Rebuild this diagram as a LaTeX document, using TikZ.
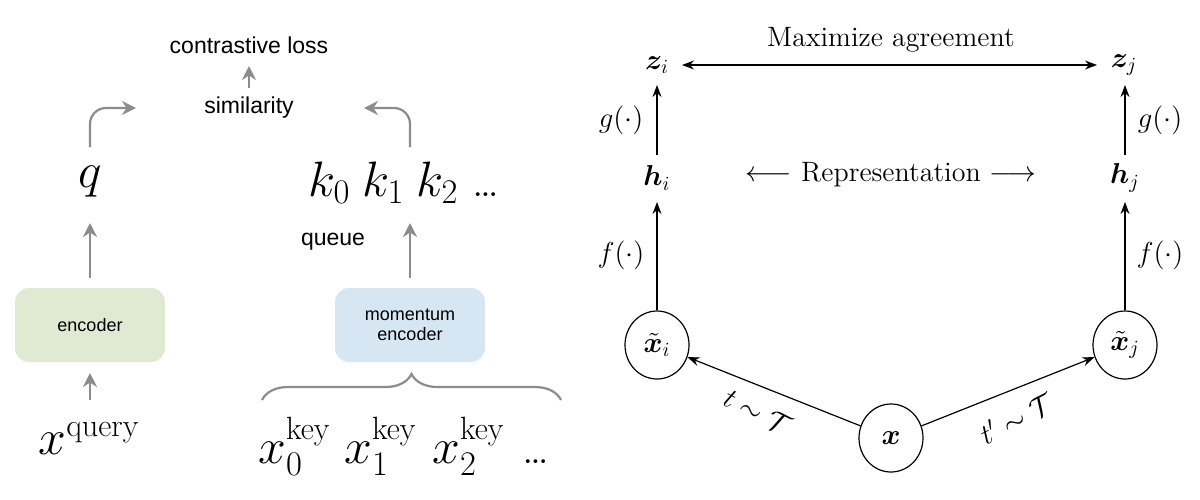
\documentclass[tikz,border=0pt]{standalone}
\usepackage{fontspec}
\usepackage{amsmath,amssymb,bm}
\newfontfamily\hv{Liberation Sans}
\usetikzlibrary{arrows.meta,decorations.pathreplacing,shapes.geometric}
\tikzset{
 gar/.style={draw=black!45,line width=1.1pt,-{Stealth[length=7pt,width=7pt]}},
 bar/.style={draw=black,line width=0.6pt,-{Stealth[length=6pt,width=4.5pt]}},
 sans/.style={font=\hv\fontsize{11.5}{13}\selectfont,inner sep=0pt},
 big/.style={font=\fontsize{23}{26}\selectfont,inner sep=0pt},
 med/.style={font=\fontsize{14}{16}\selectfont,inner sep=0pt},
 boxst/.style={rounded corners=7pt,minimum width=75pt,minimum height=37pt,font=\hv\fontsize{9}{11}\selectfont,align=center},
 circ/.style={draw,line width=0.6pt,ellipse,minimum width=32pt,minimum height=34pt,inner sep=0pt,font=\fontsize{14}{16}\selectfont},
}
\begin{document}
\begin{tikzpicture}[x=0.5pt,y=-0.5pt]
\useasboundingbox (0,0) rectangle (1200,499);
% left
\node[sans] (loss) at (249,45) {contrastive loss};
\node[sans] (sim) at (249,108) {similarity};
\draw[gar] (249,88) -- (249,66);
\node[big] (q) at (90,182) {$q$};
\node[big,anchor=base west] (k0) at (308,196) {$k_0$};
\node[big,anchor=base west] (k1) at (362,196) {$k_1$};
\node[big,anchor=base west] (k2) at (416,196) {$k_2$};
\node[big,anchor=base west] (kd) at (472,196) {\ldots};
\node[sans] (queue) at (333,242) {queue};
\node[boxst,fill={rgb,255:red,224;green,234;blue,211}] (enc) at (90,325) {encoder};
\node[boxst,fill={rgb,255:red,214;green,230;blue,242}] (menc) at (410,325) {momentum\\[-1pt]encoder};
\node[big] (xq) at (89,438) {$x^{\text{query}}$};
\node[big,anchor=base west] (x0) at (258,463) {$x_0^{\text{key}}$};
\node[big,anchor=base west] (x1) at (344,463) {$x_1^{\text{key}}$};
\node[big,anchor=base west] (x2) at (432,463) {$x_2^{\text{key}}$};
\node[big,anchor=base west] (xd) at (522,463) {\ldots};
\coordinate (qt) at (90,147); \coordinate (qe) at (136,108);
\coordinate (kt) at (410,147); \coordinate (ke) at (364,108);
\draw[gar,rounded corners=8pt] (qt) |- (qe);
\draw[gar,rounded corners=8pt] (kt) |- (ke);
\draw[gar] (q.south |- 0,278) -- (90,223);
\draw[gar] (410,278) -- (410,223);
\draw[gar] (90,400) -- (90,373);
\draw[draw=black!45,line width=1.1pt,decorate,decoration={brace,amplitude=13pt}] (262,400) -- (561,400);
% right
\node[med] (zi) at (657,65) {$\bm{z}_i$};
\node[med] (zj) at (1124,65) {$\bm{z}_j$};
\node[med] (ma) at (891,40) {Maximize agreement};
\draw[bar,{Stealth[length=6pt,width=4.5pt]}-{Stealth[length=6pt,width=4.5pt]}] (682,65) -- (1097,65);
\node[med] (hi) at (657,178) {$\bm{h}_i$};
\node[med] (hj) at (1125,178) {$\bm{h}_j$};
\node[med] (rep) at (891,175) {$\longleftarrow$ Representation $\longrightarrow$};
\node[circ] (xi) at (657,345) {$\tilde{\bm{x}}_i$};
\node[circ] (xj) at (1125,345) {$\tilde{\bm{x}}_j$};
\node[circ] (x) at (891,438) {$\bm{x}$};
\draw[bar] (hi.north |- 0,155) -- (657,85);
\draw[bar] (1125,155) -- (1125,85);
\draw[bar] (xi.north) -- (657,202);
\draw[bar] (xj.north) -- (1125,202);
\node[med] at (621,120) {$g(\cdot)$};
\node[med] at (1160,120) {$g(\cdot)$};
\node[med] at (621,255) {$f(\cdot)$};
\node[med] at (1160,255) {$f(\cdot)$};
\draw[bar] (x) -- (xi);
\draw[bar] (x) -- (xj);
\node[med,rotate=-27] at (758,412) {$t\sim\mathcal{T}$};
\node[med,rotate=27] at (1016,418) {$t'\sim\mathcal{T}$};
\end{tikzpicture}
\end{document}
